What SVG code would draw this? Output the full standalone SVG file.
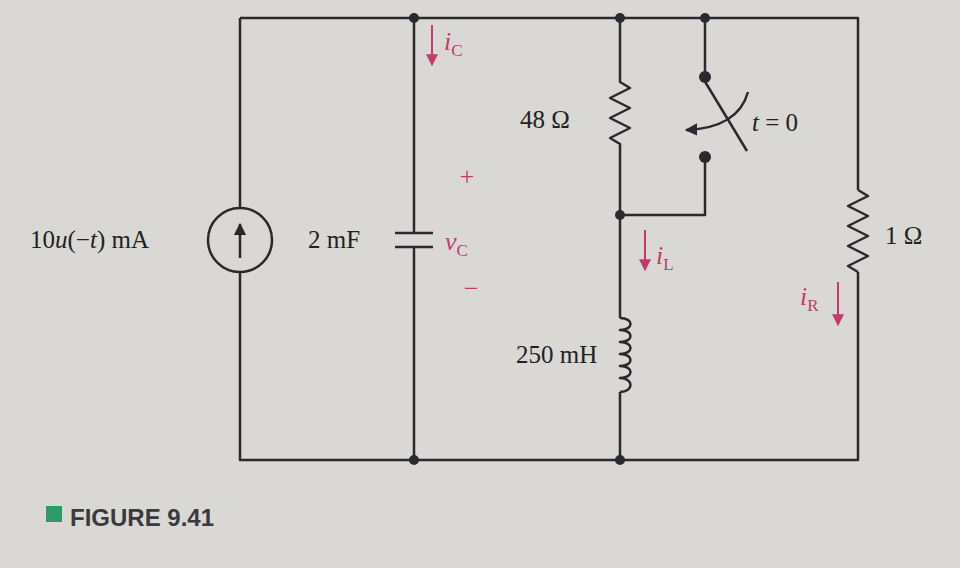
<svg xmlns="http://www.w3.org/2000/svg" width="960" height="568" viewBox="0 0 960 568">
<style>
.w{fill:none;stroke:#2a2a2e;stroke-width:2.5;stroke-linejoin:round}
.t{font-family:"Liberation Serif",serif;font-size:25px;fill:#222}
.p{font-family:"Liberation Serif",serif;font-size:26px;fill:#c23a6e;font-style:italic}
.a{stroke:#c23a6e;stroke-width:2;fill:none}
.d{fill:#2a2a2e}
</style>
<defs><marker id="ah" viewBox="0 0 10 10" refX="9" refY="5" markerWidth="6" markerHeight="6" orient="auto"><path d="M0,0L10,5L0,10z" fill="#c23a6e"/></marker>
<marker id="bh" viewBox="0 0 10 10" refX="9" refY="5" markerWidth="5" markerHeight="5" orient="auto"><path d="M0,0L10,5L0,10z" fill="#2a2a2e"/></marker></defs>
<rect width="960" height="568" fill="#d9d8d4"/>
<g id="wires">
<path class="w" d="M240,18H858V190M858,272V460H240V272M240,208V18"/>
<path class="w" d="M414,18V233M414,247V460M395,233H433M395,247H433"/>
<path class="w" d="M620,18V82l10,6l-20,10l20,10l-20,10l20,10l-20,10l10,6V215H705V157M705,77V18"/>
<path class="w" d="M620,215V318M620,392V460"/>
<path class="w" d="M620,318c14,0 14,12 0,12c14,0 14,12 0,12c14,0 14,12 0,12c14,0 14,12 0,12c14,0 14,12 0,12c14,0 14,14 0,14"/>
<path class="w" d="M858,190l10,6l-20,10l20,10l-20,10l20,10l-20,10l20,10l-20,10l10,6"/>
<path class="w" d="M704,80L747,151"/>
<path class="w" stroke-width="2" d="M748,92Q738,128 686,130" marker-end="url(#bh)"/>
</g>
<g id="source"><circle cx="240" cy="240" r="32" class="w" fill="none"/><path class="w" d="M240,258V224" marker-end="url(#bh)"/></g>
<g id="nodes">
<circle class="d" cx="414" cy="18" r="5"/><circle class="d" cx="414" cy="460" r="5"/>
<circle class="d" cx="620" cy="18" r="5"/><circle class="d" cx="620" cy="460" r="5"/>
<circle class="d" cx="705" cy="18" r="5"/><circle class="d" cx="705" cy="77" r="6"/>
<circle class="d" cx="705" cy="157" r="6"/><circle class="d" cx="620" cy="215" r="5"/>
</g>
<g id="labels">
<text class="t" x="30" y="248"><tspan>10</tspan><tspan font-style="italic">u</tspan><tspan>(−</tspan><tspan font-style="italic">t</tspan><tspan>) mA</tspan></text>
<text class="t" x="308" y="248">2 mF</text>
<text class="t" x="520" y="128">48 Ω</text>
<text class="t" x="516" y="363">250 mH</text>
<text class="t" x="885" y="244">1 Ω</text>
<text class="t" x="752" y="131"><tspan font-style="italic">t</tspan> = 0</text>
<path class="a" d="M432,25V65" marker-end="url(#ah)"/>
<text class="p" x="444" y="50">i<tspan font-size="17" dy="6" font-style="normal">C</tspan></text>
<text class="p" x="458" y="185" font-style="normal">+</text>
<text class="p" x="445" y="250">v<tspan font-size="17" dy="6" font-style="normal">C</tspan></text>
<text class="p" x="462" y="297" font-style="normal">−</text>
<path class="a" d="M645,230V270" marker-end="url(#ah)"/>
<text class="p" x="656" y="264">i<tspan font-size="17" dy="6" font-style="normal">L</tspan></text>
<path class="a" d="M838,282V325" marker-end="url(#ah)"/>
<text class="p" x="800" y="305">i<tspan font-size="17" dy="6" font-style="normal">R</tspan></text>
</g>
<rect x="46" y="506" width="16" height="16" fill="#2e9a6a"/>
<text x="70" y="526" font-family="'Liberation Sans',sans-serif" font-weight="bold" font-size="24" fill="#3a3a3e">FIGURE 9.41</text>
</svg>
